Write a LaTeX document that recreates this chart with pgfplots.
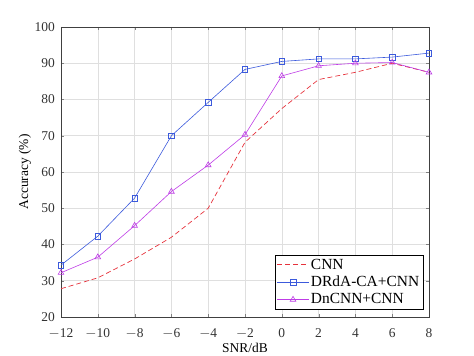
\documentclass[border=0pt]{standalone}
\usepackage{pgfplots}
\pgfplotsset{compat=1.18}
\usepackage{fontspec}
\setmainfont{Liberation Serif}
\definecolor{cblue}{RGB}{60,90,220}
\definecolor{cpurp}{RGB}{190,60,230}
\definecolor{cred}{RGB}{230,50,60}
\begin{document}
\begin{tikzpicture}
\begin{axis}[
  scale only axis,
  width=368bp, height=290bp,
  xmin=-12, xmax=8, ymin=20, ymax=100,
  xtick={-12,-10,...,8}, ytick={20,30,...,100},
  xticklabels={$-$12,$-$10,$-$8,$-$6,$-$4,$-$2,0,2,4,6,8},
  /pgf/number format/assume math mode=true,
  tick label style={font=\fontsize{13.5}{14}\selectfont, text=black!80, inner sep=1pt},
  xticklabel style={yshift=-10pt},
  yticklabel style={xshift=-5pt},
  label style={font=\fontsize{13.5}{14}\selectfont},
  xlabel={SNR/dB}, ylabel={Accuracy (\%)},
  xlabel style={yshift=0pt}, ylabel style={yshift=-1pt},
  grid=major, major grid style={gray!25, line width=0.5pt},
  tick align=inside, axis line style={black!75},
  major tick length=3pt,
  legend style={font=\fontsize{15.5}{16}\selectfont, draw=black, line width=0.6pt, inner sep=2pt, row sep=1.5pt, legend cell align=left, at={(0.985,0.025)}, anchor=south east},
  legend image code/.code={\draw[#1] (0cm,0cm) -- (1.1cm,0cm); \draw[#1, solid] plot coordinates {(0.55cm,0cm)};},
]
\addplot[cred, dashed, line width=0.7pt, dash pattern=on 5pt off 3pt] coordinates {
(-12,27.8) (-10,30.8) (-8,36) (-6,42) (-4,50) (-2,68.2) (0,77.5) (2,85.5) (4,87.5) (6,90) (8,87.5)};
\addlegendentry{CNN}
\addplot[cblue, line width=0.6pt, mark=square, mark size=2.8pt, mark options={solid}] coordinates {
(-12,34.3) (-10,42.3) (-8,52.8) (-6,70) (-4,79.2) (-2,88.3) (0,90.5) (2,91.2) (4,91.2) (6,91.7) (8,92.8)};
\addlegendentry{DRdA-CA+CNN}
\addplot[cpurp, line width=0.6pt, mark=triangle, mark size=3.3pt, mark options={solid}] coordinates {
(-12,32.2) (-10,36.5) (-8,45.2) (-6,54.6) (-4,61.9) (-2,70.3) (0,86.5) (2,89.3) (4,90) (6,90.2) (8,87.5)};
\addlegendentry{DnCNN+CNN}
\end{axis}
\path (current axis.south west) ++(-61bp,-39bp) coordinate (bl);
\path (current axis.north east) ++(45bp,27bp) coordinate (tr);
\useasboundingbox (bl) rectangle (tr);
\end{tikzpicture}
\end{document}
